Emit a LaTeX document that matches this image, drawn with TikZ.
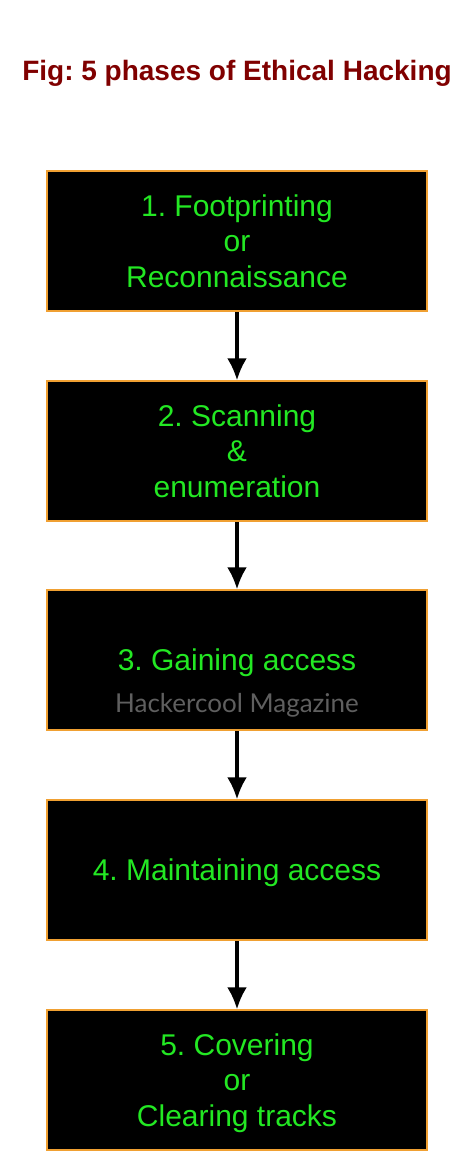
\documentclass[tikz,border=0pt]{standalone}
\usepackage{fontspec}
\setmainfont{Liberation Sans}
\newfontfamily\wmfont{Lato}
\usetikzlibrary{arrows.meta}
\frenchspacing
\definecolor{titlered}{RGB}{128,0,0}
\definecolor{hgreen}{RGB}{35,232,35}
\definecolor{borderorange}{RGB}{240,160,50}
\definecolor{wmgray}{RGB}{95,95,95}
\tikzset{
  phase/.style={draw=borderorange, line width=1.5pt, fill=black, minimum width=380pt, minimum height=140pt,
    text=hgreen, align=center, font=\fontsize{30}{35.5}\selectfont, inner sep=0pt, text depth=0pt},
  flow/.style={line width=3.2pt, -{Latex[length=22pt,width=20pt]}},
  x=1pt, y=-1pt
}
\begin{document}
\begin{tikzpicture}
\useasboundingbox (0,0) rectangle (474,1166);
\node[text=titlered, font=\fontsize{28}{32}\selectfont\bfseries] (title) at (237,73) {Fig: 5 phases of Ethical Hacking};
\node[phase] (p1) at (237,241) {1. Footprinting\\or\\Reconnaissance};
\node[phase] (p2) at (237,451) {2. Scanning\\\&\\enumeration};
\node[phase] (p3) at (237,660) {3. Gaining access};
\node[phase] (p4) at (237,870) {4. Maintaining access};
\node[phase] (p5) at (237,1080) {5. Covering\\or\\Clearing tracks};
\node[text=wmgray, font=\wmfont\fontsize{26}{30}\selectfont] (wm) at (237,705.5) {Hackercool Magazine};
\draw[flow] (p1.south) -- (p2.north);
\draw[flow] (p2.south) -- (p3.north);
\draw[flow] (p3.south) -- (p4.north);
\draw[flow] (p4.south) -- (p5.north);
\end{tikzpicture}
\end{document}
